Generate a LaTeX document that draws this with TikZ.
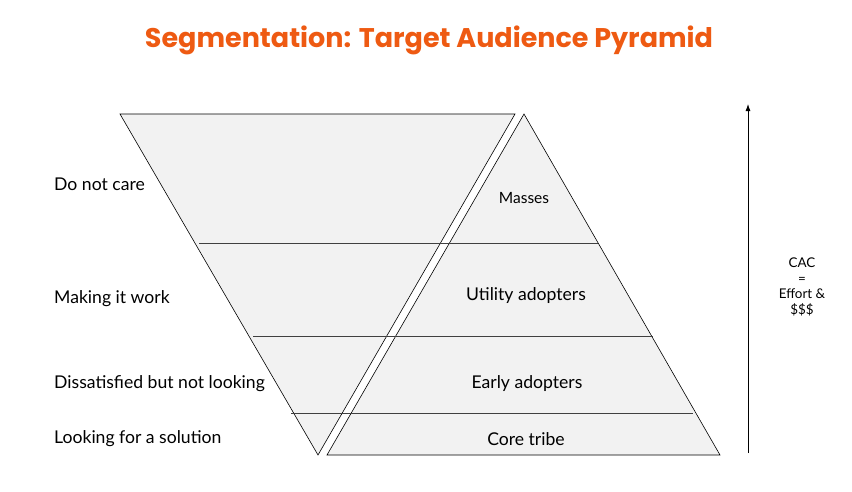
\documentclass[tikz,border=0pt]{standalone}
\usepackage{fontspec}
\usetikzlibrary{arrows.meta}
\setmainfont{Lato}
\newfontfamily\titlefont{Poppins}
\definecolor{orng}{HTML}{EE5A12}
\definecolor{fillg}{HTML}{F2F2F2}
\begin{document}
\begin{tikzpicture}[x=1pt,y=-1pt,
  tri/.style={draw=black,fill=fillg,line width=0.6pt,line join=miter},
  band/.style={draw=black!75,line width=0.8pt},
  lab/.style={anchor=west,inner sep=0pt,font=\fontsize{17.6}{20}\selectfont},
  plab/.style={font=\fontsize{17.6}{20}\selectfont}]
\useasboundingbox (0,0) rectangle (852,491);
\node[font=\titlefont\bfseries\fontsize{27}{30}\selectfont,text=orng] (title) at (429,40) {Segmentation: Target Audience Pyramid};
\coordinate (il) at (120,114); \coordinate (ir) at (515,114); \coordinate (ia) at (318,455);
\coordinate (ua) at (524,114); \coordinate (ul) at (327,455); \coordinate (ur) at (720,455);
\draw[tri] (il) -- (ir) -- (ia) -- cycle;
\draw[tri] (ua) -- (ur) -- (ul) -- cycle;
\coordinate (a1) at (199,243); \coordinate (b1) at (598,243);
\coordinate (a2) at (253,336); \coordinate (b2) at (653,336);
\coordinate (a3) at (291,413); \coordinate (b3) at (693,413);
\draw[band] (a1) -- (b1); \draw[band] (a2) -- (b2); \draw[band] (a3) -- (b3);
\node[lab] (t1) at (54,184) {Do not care};
\node[lab] (t2) at (54,299) {Making it work};
\node[lab] (t3) at (54,384) {Dissatisfied but not looking};
\node[lab] (t4) at (54,439) {Looking for a solution};
\node[font=\fontsize{15.5}{18}\selectfont] (p1) at (524,198) {Masses};
\node[plab] (p2) at (526,296) {Utility adopters};
\node[plab] (p3) at (527,384) {Early adopters};
\node[plab] (p4) at (526,439) {Core tribe};
\coordinate (s) at (748,453); \coordinate (e) at (748,104);
\draw[-{Latex[length=7pt,width=5pt]},line width=0.8pt] (s) -- (e);
\node[align=center,font=\fontsize{13.4}{15.5}\selectfont] (cac) at (802,287) {CAC\\=\\Effort \&\\\$\$\$};
\end{tikzpicture}
\end{document}
